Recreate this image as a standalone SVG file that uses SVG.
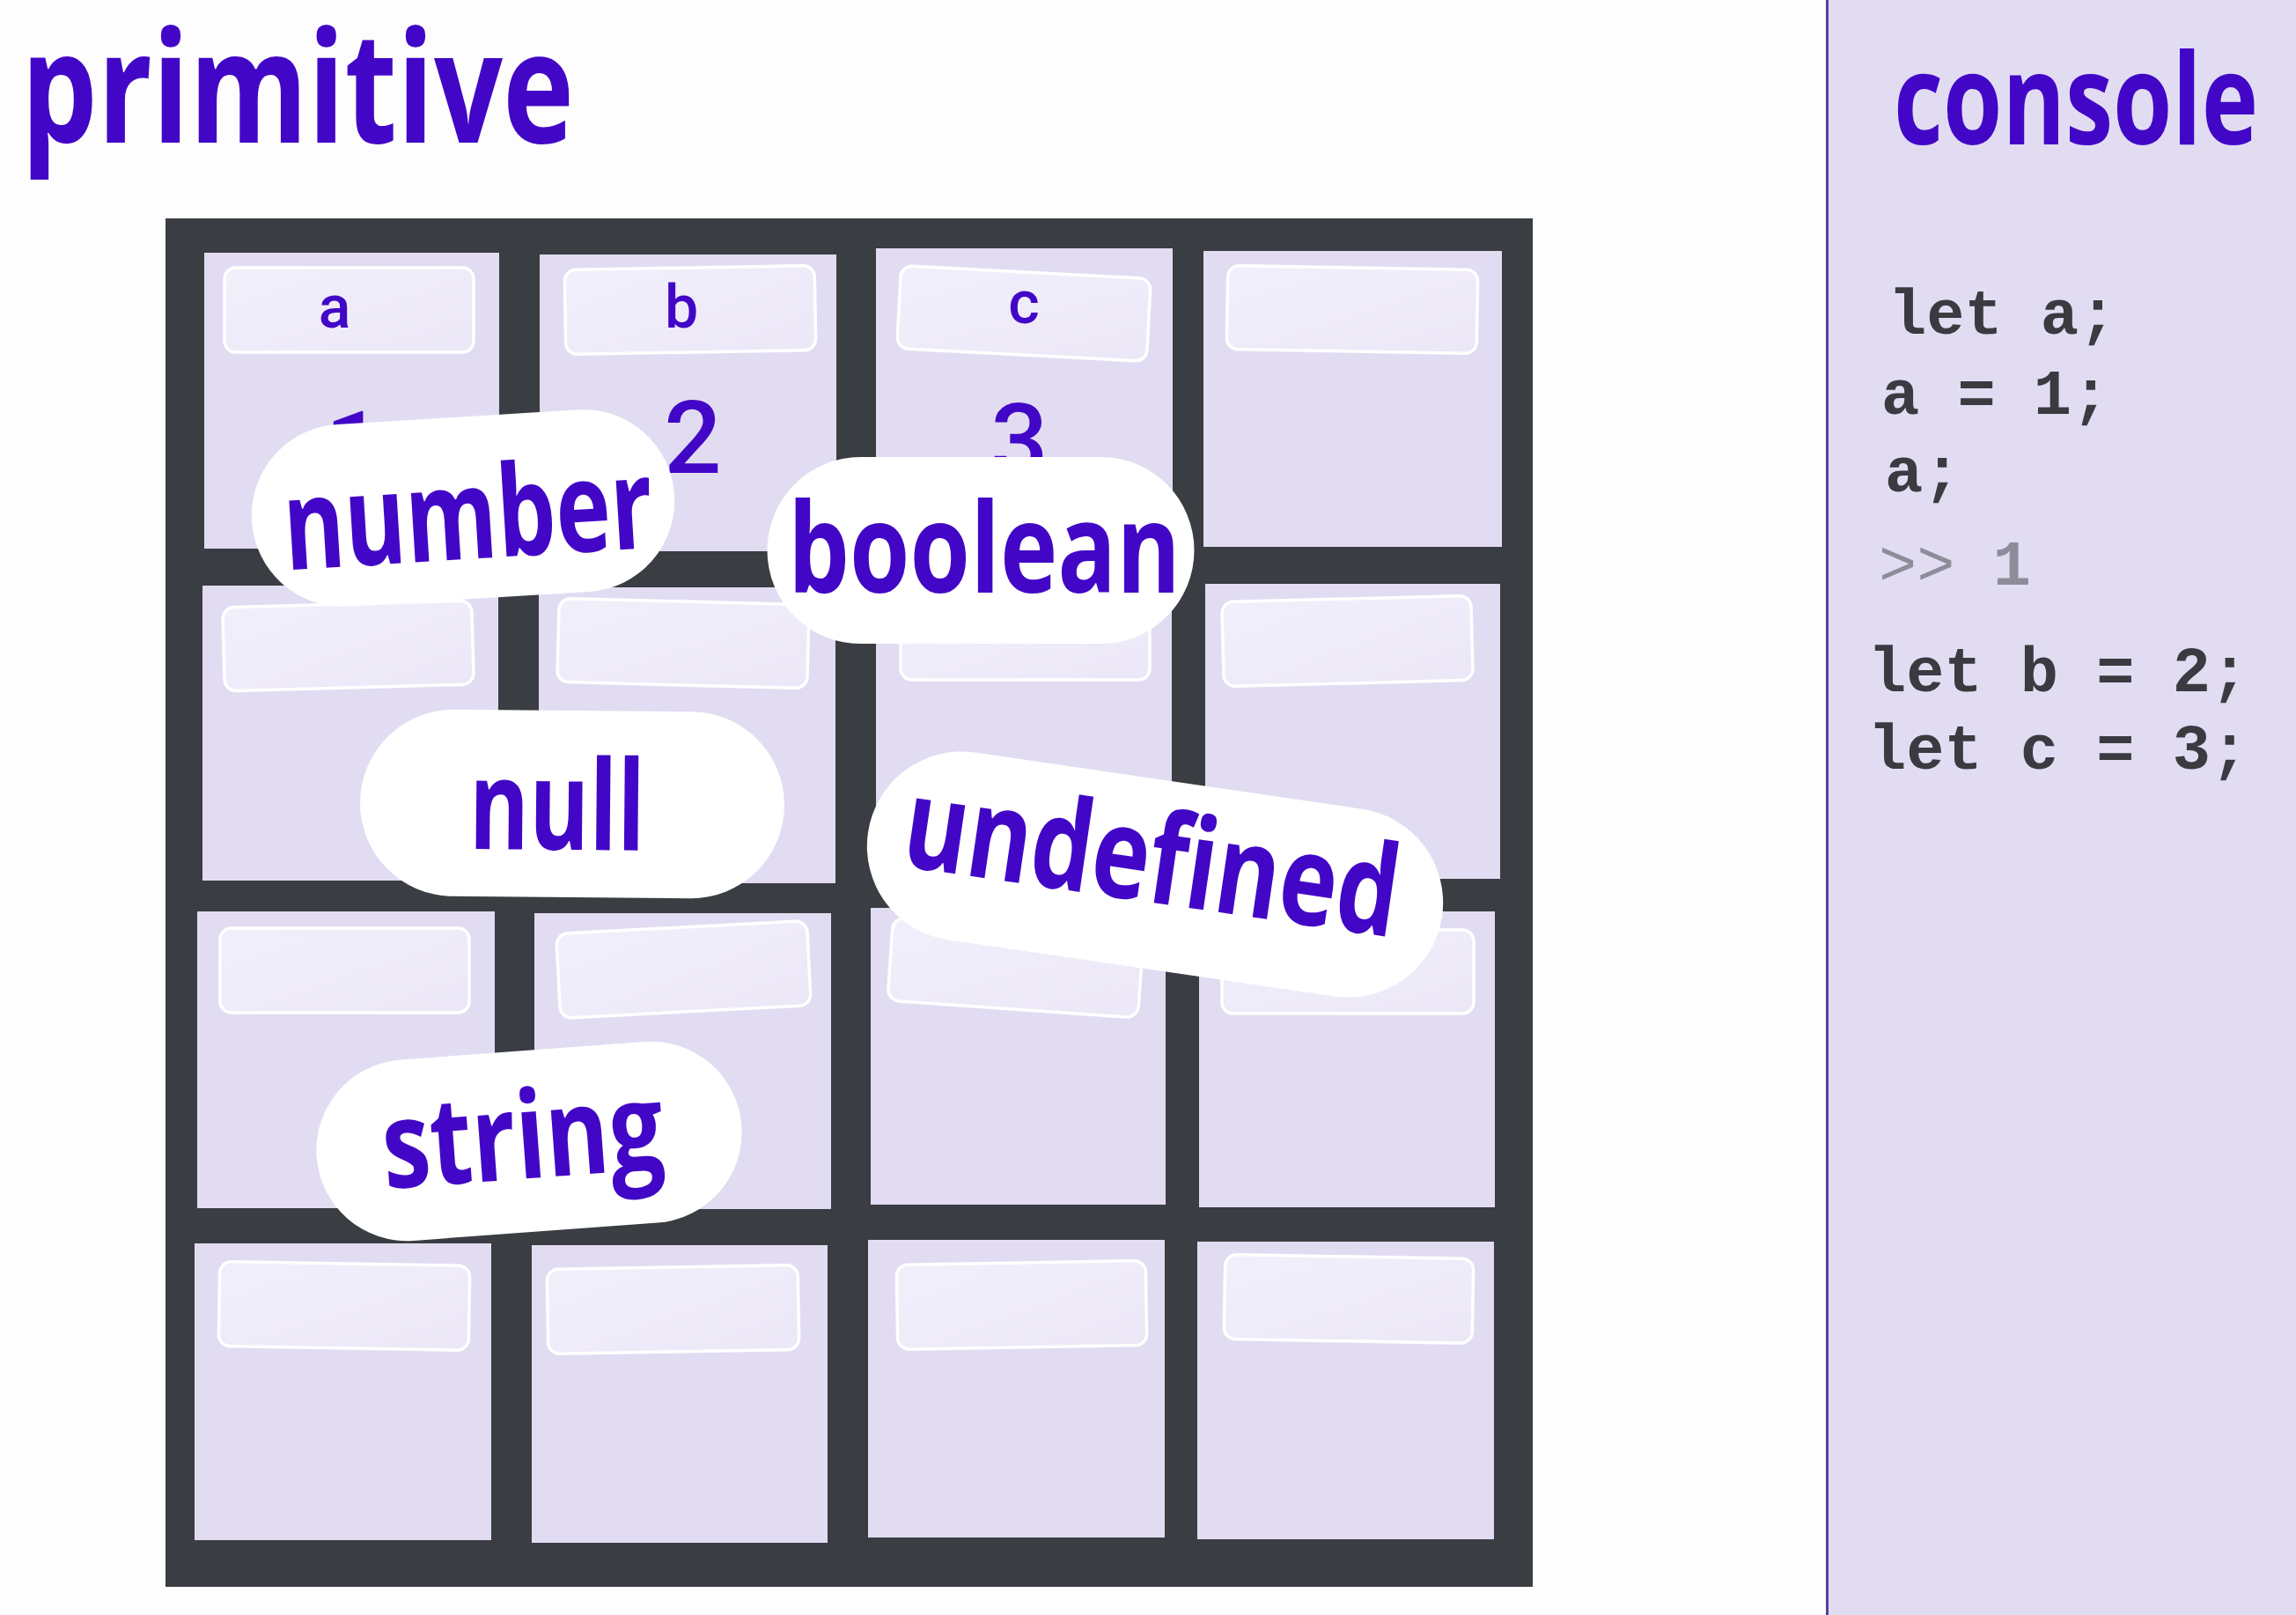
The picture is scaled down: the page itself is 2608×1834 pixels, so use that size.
<svg xmlns="http://www.w3.org/2000/svg" width="2608" height="1834" viewBox="0 0 2608 1834">
  <defs>
    <linearGradient id="lblGrad" x1="0" y1="0" x2="1" y2="1">
      <stop offset="0" stop-color="#f2effb"/>
      <stop offset="1" stop-color="#ece7f7"/>
    </linearGradient>
    <style>
      .title { font-family: "Open Sans", "Noto Sans", "Liberation Sans", sans-serif; font-weight: 700; fill: #4207c6; }
      .cell { fill: #e2dcf2; }
      .lbl { fill: url(#lblGrad); stroke: #ffffff; stroke-width: 3.5; }
      .var { font-family: Roboto, "Noto Sans", "Liberation Sans", sans-serif; font-weight: 500; font-size: 68px; fill: #4207c6; text-anchor: middle; }
      .val { font-family: Roboto, "Noto Sans", "Liberation Sans", sans-serif; font-weight: 500; font-size: 115px; fill: #4207c6; text-anchor: middle; }
      .pill { fill: #ffffff; }
      .pilltxt { font-family: "Open Sans", "Noto Sans", "Liberation Sans", sans-serif; font-weight: 700; fill: #4207c6; text-anchor: middle; }
      .code { font-family: "Liberation Mono", "DejaVu Sans Mono", monospace; font-weight: 700; font-size: 72px; fill: #3a3b40; white-space: pre; }
      .out { fill: #8e8c99; }
      .thin { font-weight: 400; }
    </style>
  </defs>

  <rect x="0" y="0" width="2608" height="1834" fill="#fdfdfe"/>

  <g id="title-primitive">
    <text class="title" x="24" y="162" font-size="176" textLength="628" lengthAdjust="spacingAndGlyphs">primitive</text>
  </g>

  <g id="memory-grid">
    <rect id="frame" x="188" y="248" width="1553" height="1554" fill="#3a3d42"/>
    <!-- row 1 -->
    <g id="cell-a">
      <rect class="cell" x="232" y="287" width="335" height="336"/>
      <rect class="lbl" x="255" y="304" width="283" height="96" rx="13"/>
      <text class="var" x="380" y="372">a</text>
      <text class="val" x="402" y="549">1</text>
    </g>
    <g id="cell-b">
      <rect class="cell" x="613" y="289" width="337" height="337"/>
      <rect class="lbl" x="642" y="304" width="284" height="96" rx="13" transform="rotate(-1 784 352)"/>
      <text class="var" x="774" y="372">b</text>
      <text class="val" x="787" y="537">2</text>
    </g>
    <g id="cell-c">
      <rect class="cell" x="995" y="282" width="337" height="338"/>
      <rect class="lbl" x="1021" y="309" width="284" height="94" rx="13" transform="rotate(3 1163 356)"/>
      <text class="var" x="1163" y="367">c</text>
      <text class="val" x="1158" y="540">3</text>
    </g>
    <g id="cell-r1c4">
      <rect class="cell" x="1367" y="285" width="339" height="336"/>
      <rect class="lbl" x="1394" y="304" width="284" height="95" rx="13" transform="rotate(1 1536 352)"/>
    </g>
    <!-- row 2 -->
    <g id="cell-r2c1">
      <rect class="cell" x="230" y="665" width="336" height="335"/>
      <rect class="lbl" x="254" y="686" width="283" height="95" rx="13" transform="rotate(-1.6 396 734)"/>
    </g>
    <g id="cell-r2c2">
      <rect class="cell" x="612" y="667" width="337" height="336"/>
      <rect class="lbl" x="634" y="683" width="284" height="95" rx="13" transform="rotate(1.5 776 730)"/>
    </g>
    <g id="cell-r2c3">
      <rect class="cell" x="995" y="665" width="336" height="333"/>
      <rect class="lbl" x="1023" y="680" width="283" height="92" rx="13"/>
    </g>
    <g id="cell-r2c4">
      <rect class="cell" x="1369" y="663" width="335" height="335"/>
      <rect class="lbl" x="1389" y="680" width="283" height="96" rx="13" transform="rotate(-1.5 1530 728)"/>
    </g>
    <!-- row 3 -->
    <g id="cell-r3c1">
      <rect class="cell" x="224" y="1035" width="338" height="337"/>
      <rect class="lbl" x="250" y="1054" width="283" height="96" rx="13"/>
    </g>
    <g id="cell-r3c2">
      <rect class="cell" x="607" y="1037" width="337" height="336"/>
      <rect class="lbl" x="634" y="1053" width="285" height="96" rx="13" transform="rotate(-3 777 1101)"/>
    </g>
    <g id="cell-r3c3">
      <rect class="cell" x="989" y="1031" width="335" height="337"/>
      <rect class="lbl" x="1011" y="1052" width="285" height="94" rx="13" transform="rotate(4 1153 1099)"/>
    </g>
    <g id="cell-r3c4">
      <rect class="cell" x="1362" y="1035" width="336" height="336"/>
      <rect class="lbl" x="1388" y="1056" width="286" height="95" rx="13"/>
    </g>
    <!-- row 4 -->
    <g id="cell-r4c1">
      <rect class="cell" x="221" y="1412" width="337" height="337"/>
      <rect class="lbl" x="249" y="1435" width="284" height="96" rx="13" transform="rotate(1 391 1483)"/>
    </g>
    <g id="cell-r4c2">
      <rect class="cell" x="604" y="1414" width="336" height="338"/>
      <rect class="lbl" x="622" y="1439" width="285" height="96" rx="13" transform="rotate(-1 764 1487)"/>
    </g>
    <g id="cell-r4c3">
      <rect class="cell" x="986" y="1408" width="337" height="338"/>
      <rect class="lbl" x="1019" y="1434" width="283" height="96" rx="13" transform="rotate(-1 1160 1482)"/>
    </g>
    <g id="cell-r4c4">
      <rect class="cell" x="1360" y="1410" width="337" height="338"/>
      <rect class="lbl" x="1391" y="1427" width="282" height="96" rx="13" transform="rotate(1 1532 1475)"/>
    </g>
  </g>

  <g id="pill-number" transform="translate(526 577) rotate(-3.5)">
    <rect class="pill" x="-240.5" y="-103.5" width="481" height="207" rx="103.5"/>
    <text class="pilltxt" x="5" y="58" font-size="144" textLength="420" lengthAdjust="spacingAndGlyphs">number</text>
  </g>
  <g id="pill-boolean" transform="translate(1114 625)">
    <rect class="pill" x="-242.5" y="-106" width="485" height="212" rx="106"/>
    <text class="pilltxt" x="4" y="48" font-size="142" textLength="446" lengthAdjust="spacingAndGlyphs">boolean</text>
  </g>
  <g id="pill-null" transform="translate(650 913) rotate(0.5)">
    <rect class="pill" x="-241" y="-106" width="482" height="212" rx="106"/>
    <text class="pilltxt" x="-17" y="52" font-size="142" textLength="200" lengthAdjust="spacingAndGlyphs">null</text>
  </g>
  <g id="pill-undefined" transform="translate(1312 993) rotate(8.3)">
    <rect class="pill" x="-329.5" y="-107.5" width="659" height="215" rx="107.5"/>
    <text class="pilltxt" x="-6" y="32" font-size="144" textLength="566" lengthAdjust="spacingAndGlyphs">undefined</text>
  </g>
  <g id="pill-string" transform="translate(601 1296) rotate(-4.2)">
    <rect class="pill" x="-242" y="-103" width="484" height="206" rx="103"/>
    <text class="pilltxt" x="-7" y="42" font-size="138" textLength="320" lengthAdjust="spacingAndGlyphs">string</text>
  </g>

  <g id="console">
    <rect x="2074" y="0" width="534" height="1834" fill="#e2dcf3"/>
    <line x1="2075.5" y1="0" x2="2075.5" y2="1834" stroke="#55409a" stroke-width="3"/>
    <text class="title" x="2151" y="164" font-size="143" textLength="414" lengthAdjust="spacingAndGlyphs">console</text>
    <text class="code" x="2145" y="379">let a;</text>
    <text class="code" x="2137" y="470">a = 1;</text>
    <text class="code" x="2141" y="558">a;</text>
    <text class="code out" x="2134" y="664"><tspan class="thin">&gt;&gt;</tspan> 1</text>
    <text class="code" x="2122" y="785">let b = 2;</text>
    <text class="code" x="2122" y="873">let c = 3;</text>
  </g>
</svg>
